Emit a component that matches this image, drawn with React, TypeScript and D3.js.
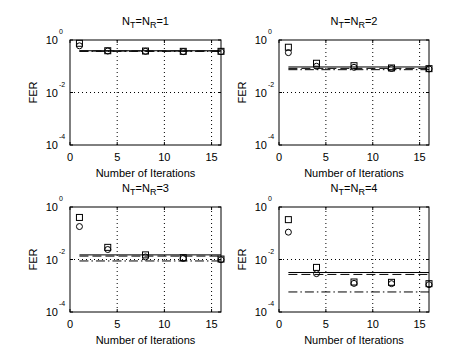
import React from "react";
import * as d3 from "d3";

const iterations = [1, 4, 8, 12, 16];
const panelN = [1, 2, 3, 4];
const squares1 = [0.75, 0.39, 0.38, 0.37, 0.37];
const circles1 = [0.6, 0.38, 0.37, 0.36, 0.36];
const squares2 = [0.53, 0.13, 0.105, 0.086, 0.081];
const circles2 = [0.33, 0.1, 0.091, 0.082, 0.079];
const squares3 = [0.4, 0.029, 0.015, 0.0117, 0.0104];
const circles3 = [0.18, 0.024, 0.0125, 0.011, 0.0098];
const squares4 = [0.33, 0.005, 0.00139, 0.00135, 0.0012];
const circles4 = [0.11, 0.0029, 0.00123, 0.0012, 0.0011];
const solidRef = [0.39, 0.094, 0.015, 0.0032];
const dashedRef = [0.38, 0.083, 0.0135, 0.0027];
const dashDotRef = [0.37, 0.074, 0.0088, 0.00058];
const xTicks = [0, 5, 10, 15];
const yTicks = [1, 1e-2, 1e-4];
const yTickExp = ["0", "-2", "-4"];

const squaresAll = [squares1, squares2, squares3, squares4];
const circlesAll = [circles1, circles2, circles3, circles4];

const boxes = [
  { x0: 70, x1: 221, y0: 40, y1: 145 },
  { x0: 279, x1: 429, y0: 40, y1: 145 },
  { x0: 70, x1: 221, y0: 207, y1: 312 },
  { x0: 279, x1: 429, y0: 207, y1: 312 },
];

const FONT = "'Liberation Sans', Arial, Helvetica, sans-serif";

function Panel({ idx }: { idx: number }) {
  const b = boxes[idx];
  const x = d3.scaleLinear().domain([0, 16]).range([b.x0, b.x1]);
  const y = d3.scaleLog().domain([1e-4, 1]).range([b.y1, b.y0]);
  const sq = squaresAll[idx];
  const ci = circlesAll[idx];
  const line = d3
    .line<[number, number]>()
    .x((d) => x(d[0]))
    .y((d) => y(d[1]));
  const refLine = (v: number) =>
    line([
      [1, v],
      [16, v],
    ]) as string;
  const cx = (b.x0 + b.x1) / 2;
  const cy = (b.y0 + b.y1) / 2;
  return (
    <g>
      {/* grid */}
      {xTicks
        .filter((t) => t > 0)
        .map((t) => (
          <line
            key={"gx" + t}
            x1={x(t)}
            x2={x(t)}
            y1={b.y0}
            y2={b.y1}
            stroke="#000"
            strokeWidth={1}
            strokeDasharray="1,3"
          />
        ))}
      <line
        x1={b.x0}
        x2={b.x1}
        y1={y(1e-2)}
        y2={y(1e-2)}
        stroke="#000"
        strokeWidth={1}
        strokeDasharray="1,3"
      />
      {/* reference lines */}
      <path d={refLine(solidRef[idx])} stroke="#000" strokeWidth={1} fill="none" />
      <path d={refLine(dashedRef[idx])} stroke="#000" strokeWidth={1} fill="none" strokeDasharray="9,4" />
      <path d={refLine(dashDotRef[idx])} stroke="#000" strokeWidth={1} fill="none" strokeDasharray="9,3,1.5,3" />
      {/* markers */}
      {iterations.map((it, i) => (
        <rect
          key={"s" + i}
          x={x(it) - 3}
          y={y(sq[i]) - 3}
          width={6}
          height={6}
          fill="none"
          stroke="#000"
          strokeWidth={1}
        />
      ))}
      {iterations.map((it, i) => (
        <circle key={"c" + i} cx={x(it)} cy={y(ci[i])} r={3} fill="none" stroke="#000" strokeWidth={1} />
      ))}
      {/* box */}
      <rect x={b.x0} y={b.y0} width={b.x1 - b.x0} height={b.y1 - b.y0} fill="none" stroke="#000" strokeWidth={1} />
      {/* ticks */}
      {xTicks.map((t) => (
        <g key={"xt" + t}>
          <line x1={x(t)} x2={x(t)} y1={b.y1} y2={b.y1 - 3} stroke="#000" />
          <line x1={x(t)} x2={x(t)} y1={b.y0} y2={b.y0 + 3} stroke="#000" />
          <text x={x(t)} y={b.y1 + 16} fontSize={11} textAnchor="middle" fontFamily={FONT}>
            {t}
          </text>
        </g>
      ))}
      {yTicks.map((t, i) => (
        <g key={"yt" + i}>
          <line x1={b.x0} x2={b.x0 + 3} y1={y(t)} y2={y(t)} stroke="#000" />
          <line x1={b.x1} x2={b.x1 - 3} y1={y(t)} y2={y(t)} stroke="#000" />
          <text x={b.x0 - 12} y={y(t) + 4} fontSize={11} textAnchor="end" fontFamily={FONT}>
            10
          </text>
          <text x={b.x0 - 11} y={y(t) - 6} fontSize={7} textAnchor="start" fontFamily={FONT}>
            {yTickExp[i]}
          </text>
        </g>
      ))}
      <text
        transform={`translate(${b.x0 - 33},${cy}) rotate(-90)`}
        fontSize={11}
        textAnchor="middle"
        fontFamily={FONT}
      >
        FER
      </text>
      <text x={cx} y={b.y1 + 32} fontSize={11} textAnchor="middle" fontFamily={FONT}>
        Number of Iterations
      </text>
      <text x={cx} y={b.y0 - 15} fontSize={11} textAnchor="middle" fontFamily={FONT}>
        N
        <tspan fontSize={9} dy={3}>T</tspan>
        <tspan dy={-3}>=N</tspan>
        <tspan fontSize={9} dy={3}>R</tspan>
        <tspan dy={-3}>={panelN[idx]}</tspan>
      </text>
    </g>
  );
}

export default function App() {
  return (
    <svg
      width={474}
      height={355}
      style={{ position: "absolute", left: 0, top: 0, display: "block", background: "#fff" }}
    >
      <rect x={0} y={0} width={474} height={355} fill="#fff" />
      {[0, 1, 2, 3].map((i) => (
        <Panel key={i} idx={i} />
      ))}
    </svg>
  );
}
